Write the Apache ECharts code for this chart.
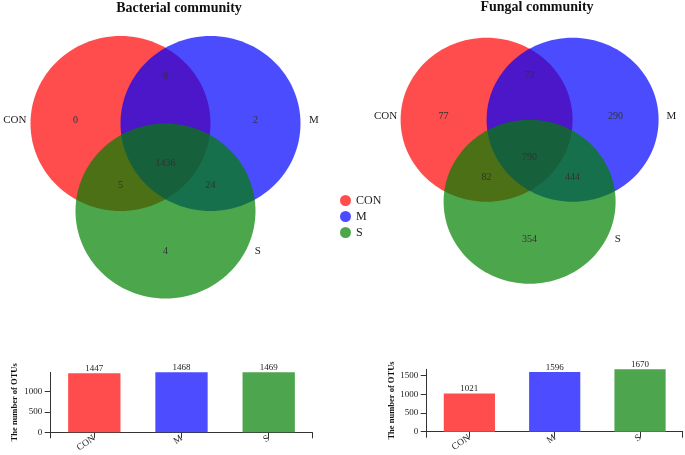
<!DOCTYPE html>
<html>
<head>
<meta charset="utf-8">
<script src="https://cdn.jsdelivr.net/npm/echarts@6/dist/echarts.min.js"></script>
<style>html,body{margin:0;padding:0;background:#fff;}#chart{width:685px;height:455px;}</style>
</head>
<body>
<div id="chart"></div>
<script>
// ---- Data ----
const groups = ['CON', 'M', 'S'];
// Venn regions: CON only, M only, S only, CON∩M, CON∩S, M∩S, CON∩M∩S
const regionNames = ['CON only', 'M only', 'S only', 'CON∩M', 'CON∩S', 'M∩S', 'CON∩M∩S'];
const bacterialVenn = [0, 2, 4, 6, 5, 24, 1436];
const fungalVenn = [77, 290, 354, 72, 82, 444, 790];
const bacterialTotals = [1447, 1468, 1469];
const fungalTotals = [1021, 1596, 1670];
const barTickStep = 500;

// ---- Layout (abstract Venn units) ----
const CIRCLE_CENTERS = [[-1, 0], [1, 0], [0, -2]];
const CIRCLE_R = 2;
const REGION_POS = [[-2, 0.08], [2, 0.08], [0, -2.92], [0, 1.07], [-1, -1.41], [1, -1.41], [0, -0.92]];
const NAME_POS = [[-3.35, 0.08], [3.3, 0.08], [2.05, -2.91]];

// ---- Styles ----
const FONT = "'Liberation Serif', 'Times New Roman', serif";
const VENN_FILL = ['rgba(255,0,0,0.7)', 'rgba(0,0,255,0.7)', 'rgba(0,128,0,0.7)'];
const BAR_FILL = ['#FF4D4D', '#4D4DFF', '#4DA64D'];
const AXIS_COLOR = '#333';

function circleRender(params, api) {
  const c = api.coord([api.value(0), api.value(1)]);
  const s = api.size([api.value(2), api.value(2)]);
  return {
    type: 'ellipse',
    shape: { cx: c[0], cy: c[1], rx: s[0], ry: s[1] },
    style: { fill: api.visual('color') }
  };
}
function numberRender(params, api) {
  const c = api.coord([api.value(0), api.value(1)]);
  return {
    type: 'text', x: c[0], y: c[1],
    style: { text: String(api.value(2)), fill: '#333', font: '10px ' + FONT,
      align: 'center', verticalAlign: 'middle', textAlign: 'center', textVerticalAlign: 'middle' }
  };
}
function nameRender(params, api) {
  const c = api.coord([api.value(0), api.value(1)]);
  return {
    type: 'text', x: c[0], y: c[1],
    style: { text: groups[params.dataIndex], fill: '#222', font: '11px ' + FONT,
      align: 'center', verticalAlign: 'middle', textAlign: 'center', textVerticalAlign: 'middle' }
  };
}

function vennSeries(axisIdx, values) {
  const list = [];
  groups.forEach(function (name, i) {
    list.push({
      name: name, type: 'custom', xAxisIndex: axisIdx, yAxisIndex: axisIdx,
      itemStyle: { color: VENN_FILL[i] }, silent: true, clip: false,
      data: [[CIRCLE_CENTERS[i][0], CIRCLE_CENTERS[i][1], CIRCLE_R]],
      renderItem: circleRender
    });
  });
  list.push({
    type: 'custom', xAxisIndex: axisIdx, yAxisIndex: axisIdx, silent: true, clip: false,
    data: REGION_POS.map(function (p, k) { return { name: regionNames[k], value: [p[0], p[1], values[k]] }; }),
    renderItem: numberRender
  });
  list.push({
    type: 'custom', xAxisIndex: axisIdx, yAxisIndex: axisIdx, silent: true, clip: false,
    data: NAME_POS.map(function (p) { return [p[0], p[1]]; }),
    renderItem: nameRender
  });
  return list;
}

function barSeries(xIdx, yIdx, values) {
  return {
    type: 'bar', xAxisIndex: xIdx, yAxisIndex: yIdx, barWidth: '60%', silent: true,
    data: values.map(function (v, i) { return { value: v, itemStyle: { color: BAR_FILL[i] } }; }),
    label: { show: true, position: 'top', distance: 0, fontSize: 9, fontFamily: FONT, color: '#222' }
  };
}

function vennX(g) { return { gridIndex: g, type: 'value', min: -3, max: 3, show: false }; }
function vennY(g) { return { gridIndex: g, type: 'value', min: -4, max: 2, show: false }; }
function barCatX(g) {
  return {
    gridIndex: g, type: 'category', data: groups, position: 'bottom',
    axisLine: { show: true, lineStyle: { color: AXIS_COLOR, width: 1 } },
    axisTick: { show: true, alignWithLabel: true, length: 6, lineStyle: { color: AXIS_COLOR } },
    axisLabel: { rotate: 35, margin: 5, fontSize: 9.5, fontFamily: FONT, color: '#222' },
    splitLine: { show: false }
  };
}
function barEndX(g) {
  return {
    gridIndex: g, type: 'value', min: 0, max: 1, interval: 1, position: 'bottom',
    axisLine: { show: false },
    axisTick: { show: true, length: 6, lineStyle: { color: AXIS_COLOR } },
    axisLabel: { show: false }, splitLine: { show: false }
  };
}
function barY(g, values, gap) {
  return {
    gridIndex: g, type: 'value', min: 0, max: Math.max.apply(null, values), interval: barTickStep,
    name: 'The number of OTUs', nameLocation: 'middle', nameRotate: 90, nameGap: gap,
    nameTextStyle: { fontSize: 8.5, fontWeight: 'bold', fontFamily: FONT, color: '#111' },
    axisLine: { show: true, lineStyle: { color: AXIS_COLOR, width: 1 } },
    axisTick: { show: true, length: 6, lineStyle: { color: AXIS_COLOR } },
    axisLabel: { margin: 8.5, fontSize: 9, fontFamily: FONT, color: '#222', showMaxLabel: false,
      formatter: function (v) { return String(v); } },
    splitLine: { show: false }
  };
}

const chart = echarts.init(document.getElementById('chart'), null, { renderer: 'canvas' });
chart.setOption({
  backgroundColor: '#fff',
  animation: false,
  title: [
    { text: 'Bacterial community', left: 179, top: 1, textAlign: 'center', padding: 0,
      textStyle: { fontFamily: FONT, fontWeight: 'bold', fontSize: 14, color: '#111' } },
    { text: 'Fungal community', left: 537, top: 0, textAlign: 'center', padding: 0,
      textStyle: { fontFamily: FONT, fontWeight: 'bold', fontSize: 14, color: '#111' } }
  ],
  legend: {
    data: groups, orient: 'vertical', left: 340, top: 194.5, padding: 0,
    icon: 'circle', itemWidth: 11, itemHeight: 11, itemGap: 4,
    textStyle: { fontFamily: FONT, fontSize: 12, color: '#222' },
    selectedMode: false
  },
  grid: [
    { left: 30.5, top: 36, width: 270, height: 262.5, outerBoundsMode: 'none' },
    { left: 400.6, top: 37.7, width: 258, height: 246, outerBoundsMode: 'none' },
    { left: 50.7, top: 372.3, width: 261.6, height: 60, outerBoundsMode: 'none' },
    { left: 426.7, top: 369.3, width: 256, height: 62.4, outerBoundsMode: 'none' }
  ],
  xAxis: [vennX(0), vennX(1), barCatX(2), barEndX(2), barCatX(3), barEndX(3)],
  yAxis: [vennY(0), vennY(1), barY(2, bacterialTotals, 31), barY(3, fungalTotals, 30)],
  series: [].concat(
    vennSeries(0, bacterialVenn),
    vennSeries(1, fungalVenn),
    [barSeries(2, 2, bacterialTotals), barSeries(4, 3, fungalTotals)]
  )
});
</script>
</body>
</html>
